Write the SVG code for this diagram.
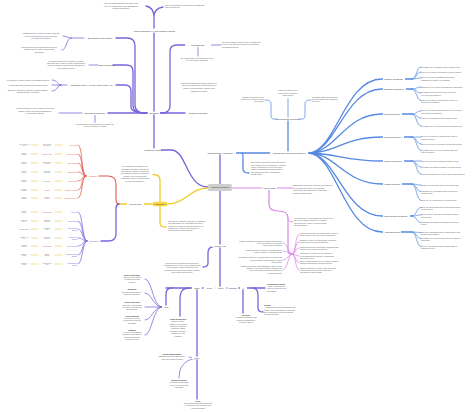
<svg xmlns="http://www.w3.org/2000/svg" width="474" height="412" viewBox="0 0 474 412">
<style>
.c{fill:none;stroke-linecap:round;stroke-linejoin:round}
.pu{stroke:#7467da;stroke-width:1.3}
.pt{stroke:#7467da;stroke-width:0.75}
.bl{stroke:#5689e2;stroke-width:1.3}
.bt{stroke:#5689e2;stroke-width:0.75}
.rd{stroke:#e0584a;stroke-width:1.1}
.rt{stroke:#e0584a;stroke-width:0.75}
.ye{stroke:#f1cb2c;stroke-width:1.3}
.mg{stroke:#d987e6;stroke-width:1.2}
.mt{stroke:#d987e6;stroke-width:0.75}
.yd{stroke:#efd260;stroke-width:0.7;stroke-dasharray:1.4 0.9}
text{font-family:"Liberation Sans",Arial,sans-serif}
.lb{font-size:2px;fill:#2e2e2e}
.lf{font-size:1.75px;fill:#555}
.sm{font-size:1.5px;fill:#7a7a7a}
.bd{font-weight:bold;fill:#333}
.rl{font-size:1.6px;fill:#d5554a}
.pl{font-size:1.6px;fill:#675cd0}
.bg{fill:#fff}
</style>
<rect width="474" height="412" fill="#fff"/>
<g id="connectors">
<path class="c pu" d="M154,148 L154,33 M154,28 L154,17 C154,10 151,7 146,6 M154,17 C154,11 157,8 163,7"/>
<path class="c pu" d="M116,38 L127,38 C132,38 135,41 135,46 L135,105 C135,110 139,113 146,113"/>
<path class="c pu" d="M113,65 L126,65 C130,65 133,67 133,71 L133,106 C133,111 137,113 146,113"/>
<path class="c pu" d="M116,85 L125,85 C129,85 131,87 131,91 L131,107 C131,111 135,113 146,113"/>
<path class="c pu" d="M108,113 L148,113 M160,113 L185,113"/>
<path class="c pu" d="M160,113 L163,113 C167,113 170,110 170,106 L170,51 C170,47 173,45 177,45 L185,45"/>
<path class="c pt" d="M84,38 L71,38 M71,38 C67,38 67,36 63,36 M71,38 C66,38 67,50 62,50"/>
<path class="c pt" d="M98,65 L89,65"/>
<path class="c pt" d="M67,85 L61,85 M61,85 C57,85 58,80 52,80 M61,85 L52,85 M61,85 C57,85 58,91 52,91"/>
<path class="c pt" d="M82,113 L59,113 M95,115.5 L95,122.5 M198,47.5 L198,56 M211,45 L221,45"/>
<path class="c pu" d="M161,150 L171,150 C187,150 186,187 208,187"/>
<path class="c pu" d="M220,184 L220,153 M220,190.5 L220,288"/>
<path class="c pu" d="M213,247 C209,247 208,249 208,253 L208,263 C208,266 206,267 203,267"/>
<path class="c pu" d="M166,288 L265,288"/>
<path class="c pu" d="M189,288 C182,288 180,292 180,300 L180,316"/>
<path class="c pu" d="M172,288 C168,288 166,290 166,294 L166,305"/>
<path class="c pt" d="M162,307 C153,307 152,279 145,279 M162,307 C153,307 152,293 145,293 M162,307 L145,307 M162,307 C153,307 152,320 145,320 M162,307 C153,307 152,335 145,335"/>
<path class="c pu" d="M197,288 L197,399"/>
<path class="c pt" d="M195,358 C192,358 191,357 189,357 M195,359 C188,359 183,363 180,370 L179,378"/>
<path class="c pu" d="M243,288 L243,313 M253,288 C257,288 258,291 258,296 L258,308 C258,311 260,312 263,312"/>
<path class="c bl" d="M222,153 L270,153 M288,121 L288,151"/>
<path class="c bl" d="M242,153 C243,153 243,155 243,159 L243,169 C243,172 245,173 249,173"/>
<path class="c bt" d="M288,98.5 L288,117 M277,119 L274,119 C271,119 271,117 271,114 L271,104 C271,101 269,100 265,100 M299,119 L302,119 C305,119 305,117 305,114 L305,104 C305,101 307,100 311,100"/>
<path class="c bl" d="M308,153 C336,153 344,79 382,79 L412,79 M308,153 C336,153 344,89 382,89 L412,89 M308,153 C336,153 344,114 382,114 L412,114 M308,153 C336,153 344,137 382,137 L412,137 M308,153 C336,153 344,161 382,161 L412,161 M308,153 C336,153 344,184 382,184 L412,184 M308,153 C336,153 344,216 382,216 L412,216 M308,153 C336,153 344,232 382,232 L412,232"/>
<path class="c bt" d="M412,79 C417,79 416,67 421,67 M412,79 C417,79 416,72 421,72 M412,79 C417,79 416,78 421,78"/>
<path class="c bt" d="M412,89 C417,89 416,87 421,87 M412,89 C417,89 416,93 421,93 M412,89 C417,89 416,100.5 421,100.5"/>
<path class="c bt" d="M412,114 C417,114 416,111 421,111 M412,114 C417,114 416,118 421,118 M412,114 C417,114 416,126 421,126"/>
<path class="c bt" d="M412,137 C417,137 416,137 421,137 M412,137 C417,137 416,144 421,144 M412,137 C417,137 416,150.5 421,150.5"/>
<path class="c bt" d="M412,161 C417,161 416,161 421,161 M412,161 C417,161 416,167 421,167 M412,161 C417,161 416,174 421,174"/>
<path class="c bt" d="M412,184 C417,184 416,185 421,185 M412,184 C417,184 416,191.5 421,191.5 M412,184 C417,184 416,200.5 421,200.5"/>
<path class="c bt" d="M412,216 C417,216 416,207.5 421,207.5 M412,216 C417,216 416,215 421,215 M412,216 C417,216 416,222.5 421,222.5"/>
<path class="c bt" d="M412,232 C417,232 416,232.5 421,232.5 M412,232 C417,232 416,238.5 421,238.5 M412,232 C417,232 416,246.5 421,246.5"/>
<path class="c mg" d="M231,188 L292,188 M269,190 L269,204 C269,209 272,211 278,211 C284,211 288,213 288,218 L288,250 C288,253 289,254 292,254"/>
<path class="c mt" d="M288,219 C288,221 290,222 293,222"/>
<path class="c mt" d="M292,254 C296,254 295,234.5 299,234.5 M292,254 C296,254 295,241.5 299,241.5 M292,254 C296,254 295,248 299,248 M292,254 C296,254 295,256 299,256 M292,254 C296,254 295,262.5 299,262.5 M292,254 C296,254 295,270 299,270"/>
<path class="c mt" d="M292,254 C288,254 288,243 283,243 M292,254 C288,254 288,251 283,251 M292,254 C288,254 288,260 283,260 M292,254 C288,254 288,269.5 283,269.5"/>
<path class="c ye" d="M208,188 C190,188 186,204 167,204 M160,201.8 L160,180 C160,176 158,174.5 153,174.5 M160,206.2 L160,223 C160,226 162,227 166,227 M153.5,204 L119,204"/>
<path class="c rd" d="M119,204 C116,204 116,201 116,197 L116,184 C116,179 113,176 108,176 L99,176"/>
<path class="c pu" d="M119,204 C116,204 116,207 116,211 L116,234 C116,239 113,241 108,241 L101,241"/>
<path class="c rt" d="M86,176 C81,176 83,145 78,145 M86,176 C81,176 83,154 78,154 M86,176 C81,176 83,163 78,163 M86,176 C81,176 83,172 78,172 M86,176 C81,176 83,181 78,181 M86,176 C81,176 83,190 78,190 M86,176 C81,176 83,198 78,198"/>
<path class="c pt" d="M87,241 C82,241 83,212 78,212 M87,241 C82,241 83,221 78,221 M87,241 C82,241 83,229 78,229 M87,241 C82,241 83,238 78,238 M87,241 C82,241 83,246 78,246 M87,241 C82,241 83,255 78,255 M87,241 C82,241 83,264 78,264"/>
<path class="c yd" d="M55,145 L62,145 M31,145 L38,145 M55,154 L62,154 M31,154 L38,154 M55,163 L62,163 M31,163 L38,163 M55,172 L62,172 M31,172 L38,172 M55,181 L62,181 M31,181 L38,181 M55,190 L62,190 M31,190 L38,190 M55,198 L62,198 M31,198 L38,198"/>
<path class="c yd" d="M55,212 L62,212 M31,212 L38,212 M55,221 L62,221 M31,221 L38,221 M55,229 L62,229 M31,229 L38,229 M55,238 L62,238 M31,238 L38,238 M55,246 L62,246 M31,246 L38,246 M55,255 L62,255 M31,255 L38,255 M55,264 L62,264 M31,264 L38,264"/>
</g>

<g id="center"><rect x="208" y="184" width="24" height="7" rx="1.5" fill="#cfcfcf"/><text class="lb" x="220" y="188.2" text-anchor="middle" style="font-size:1.9px">Latest Developments</text></g>

<g id="tech-trends"><rect class="bg" x="145" y="148.6" width="16" height="2.8"/><text class="lb" x="153" y="150.7" text-anchor="middle">Technology Trends</text></g>
<g id="emerging"><rect class="bg" x="148" y="111.6" width="12" height="2.8"/><text class="lb" x="154" y="113.7" text-anchor="middle">Emerging</text></g>
<g id="ai"><rect class="bg" x="129" y="29.6" width="50" height="2.8"/><text class="lb" x="154" y="31.7" text-anchor="middle">Artificial Intelligence (AI) and Machine Learning</text></g>
<g id="ai-1"><text class="lf" text-anchor="middle"><tspan x="121" y="4.2">Focus on natural language processing (NLP)</tspan><tspan x="121" dy="2.3">tools, like chatbots and virtual assistants, in</tspan><tspan x="121" dy="2.3">mental health support</tspan></text></g>
<g id="ai-2"><text class="lf"><tspan x="165" y="5.6">Explore how machine learning improves diagnostic</tspan><tspan x="165" dy="2.3">tools in psychology</tspan></text></g>

<g id="biotech"><text class="lb" x="100" y="38.7" text-anchor="middle">Biotechnology and CRISPR</text></g>
<g id="biotech-1"><text class="lf" text-anchor="middle"><tspan x="41" y="34.3">CRISPR and gene editing: potential to address</tspan><tspan x="41" dy="2.3">genetic contributions to mental health and</tspan><tspan x="41" dy="2.3">developmental conditions</tspan></text></g>
<g id="biotech-2"><text class="lf" text-anchor="middle"><tspan x="39" y="48">Using genomics for creating genetic disorders</tspan><tspan x="39" dy="2.3">therapies and the ethical, psychological</tspan><tspan x="39" dy="2.3">implications</tspan></text></g>

<g id="edge"><text class="lb" x="99" y="65.7">Edge Computing</text></g>
<g id="edge-1"><text class="lf" text-anchor="middle"><tspan x="66" y="61.6">Processing data closer to its source, allowing</tspan><tspan x="66" dy="2.3">faster and more reliable real-time monitoring and</tspan><tspan x="66" dy="2.3">quicker feedback in psychological assessments</tspan><tspan x="66" dy="2.3">and wearable devices</tspan></text></g>

<g id="arvr"><text class="lb" x="91.5" y="85.7" text-anchor="middle">Augmented Reality (AR) and Virtual Reality (VR)</text></g>
<g id="arvr-1"><text class="lf" x="28" y="80.6" text-anchor="middle">AR enhances exposure therapy for phobias and anxiety</text></g>
<g id="arvr-2"><text class="lf" x="28" y="85.6" text-anchor="middle">VR simulates social interactions for autism therapy</text></g>
<g id="arvr-3"><text class="lf" text-anchor="middle"><tspan x="28" y="90.6">Both offer potential for immersive cognitive training,</tspan><tspan x="28" dy="2.3">simulations and experiments</tspan></text></g>

<g id="blockchain"><text class="lb" x="95" y="113.7" text-anchor="middle">Blockchain Technology</text></g>
<g id="blockchain-1"><text class="lf" text-anchor="middle"><tspan x="35" y="109.3">Using blockchain for secure health records, data</tspan><tspan x="35" dy="2.3">sharing, privacy and consent management</tspan><tspan x="35" dy="2.3">in psychology research</tspan></text></g>
<g id="blockchain-2"><text class="lf" text-anchor="middle"><tspan x="95" y="125">Concerns about potential misuse of data and the</tspan><tspan x="95" dy="2.3">need for regulatory oversight</tspan></text></g>

<g id="g5"><rect class="bg" x="185" y="43.6" width="26" height="2.8"/><text class="lb" x="198" y="45.7" text-anchor="middle">5G Technology</text></g>
<g id="g5-1"><text class="lf" text-anchor="middle"><tspan x="197" y="59">5G enables faster telehealth services and</tspan><tspan x="197" dy="2.3">real-time remote monitoring</tspan></text></g>
<g id="g5-2"><text class="lf"><tspan x="222" y="43">The rapid growth of remote therapy, allowing more</tspan><tspan x="222" dy="2.3">people to access psychological services without</tspan><tspan x="222" dy="2.3">geographical barriers</tspan></text></g>

<g id="quantum"><text class="lb" x="198" y="113.7" text-anchor="middle">Quantum Computing</text></g>
<g id="quantum-1"><text class="lf" text-anchor="middle"><tspan x="199" y="83.5">Quantum computing could greatly advance the</tspan><tspan x="199" dy="2.9">modelling of brain activity and simulations of</tspan><tspan x="199" dy="2.9">complex neural networks, leading to new</tspan><tspan x="199" dy="2.9">insights into cognition</tspan></text></g>

<g id="interdisciplinary"><rect class="bg" x="204" y="151.6" width="32" height="2.8"/><text class="lb" x="220" y="153.7" text-anchor="middle">Interdisciplinary Approaches</text></g>
<g id="interdisciplinary-1"><text class="lf"><tspan x="251" y="163.2">Exploring the intersection of psychology with</tspan><tspan x="251" dy="2.4">other disciplines like neuroscience, computer</tspan><tspan x="251" dy="2.4">science and sociology to develop a more</tspan><tspan x="251" dy="2.4">holistic understanding of human behavior</tspan><tspan x="251" dy="2.4">and to address complex challenges in</tspan><tspan x="251" dy="2.4">mental health</tspan></text></g>

<g id="contemporary"><rect class="bg" x="270" y="151.6" width="38" height="2.8"/><text class="lb" x="289" y="153.7" text-anchor="middle">Contemporary Psychology Branches</text></g>

<g id="developmental"><text class="lb" x="288" y="119.7" text-anchor="middle">Developmental Psychology</text></g>
<g id="developmental-1"><text class="lf" text-anchor="middle"><tspan x="288" y="91.3">Study the cognitive and</tspan><tspan x="288" dy="2.4">emotional development of</tspan><tspan x="288" dy="2.4">digital natives</tspan></text></g>
<g id="developmental-2"><text class="lf" text-anchor="end"><tspan x="264" y="97.8">Examine the impact of early</tspan><tspan x="264" dy="2.3">technology exposure on child</tspan><tspan x="264" dy="2.3">development</tspan></text></g>
<g id="developmental-3"><text class="lf"><tspan x="312" y="97.8">Investigate aging and technology</tspan><tspan x="312" dy="2.3">adoption among older adults and</tspan><tspan x="312" dy="2.3">the elderly</tspan></text></g>

<g id="cognitive"><rect class="bg" x="383" y="77.6" width="22" height="2.8"/><text class="lb" x="384" y="79.7">Cognitive Psychology</text></g>
<g id="cognitive-leaves"><text class="lf"><tspan x="421" y="67.6">Investigate the relationship between attention and</tspan><tspan x="421" y="72.6">Explore the cognitive processes in decision-making</tspan><tspan x="421" y="78.4">Study the impact of multitasking and digital</tspan><tspan x="421" dy="2.3">distractions on cognitive performance</tspan></text></g>
<g id="emotional"><rect class="bg" x="383" y="87.6" width="23" height="2.8"/><text class="lb" x="384" y="89.7">Emotional Intelligence</text></g>
<g id="emotional-leaves"><text class="lf"><tspan x="421" y="87.6">Examine the role of EI in leadership and relationships</tspan><tspan x="421" y="93.4">Investigate how emotional intelligence can be</tspan><tspan x="421" dy="2.3">developed and measured</tspan><tspan x="421" y="100.9">Explore the impact of emotional intelligence on</tspan><tspan x="421" dy="2.3">workplace performance</tspan></text></g>
<g id="social"><rect class="bg" x="383" y="112.6" width="19" height="2.8"/><text class="lb" x="384" y="114.7">Social Psychology</text></g>
<g id="social-leaves"><text class="lf"><tspan x="421" y="111.4">Study the effects of social media on self-esteem and</tspan><tspan x="421" dy="2.3">interpersonal relationships</tspan><tspan x="421" y="118.6">Analyze the dynamics of group behavior online</tspan><tspan x="421" y="126.6">Investigate the role of social support in mental health</tspan></text></g>
<g id="clinical"><rect class="bg" x="383" y="135.6" width="21" height="2.8"/><text class="lb" x="384" y="137.7">Clinical Psychology</text></g>
<g id="clinical-leaves"><text class="lf"><tspan x="421" y="137.4">Explore the influence of digital therapy tools on</tspan><tspan x="421" dy="2.3">clinical outcomes</tspan><tspan x="421" y="144.6">Study the effects of telehealth on therapeutic alliance</tspan><tspan x="421" y="150.9">Investigate the use of VR in treating PTSD and</tspan><tspan x="421" dy="2.3">anxiety disorders</tspan></text></g>
<g id="positive"><rect class="bg" x="383" y="159.6" width="21" height="2.8"/><text class="lb" x="384" y="161.7">Positive Psychology</text></g>
<g id="positive-leaves"><text class="lf"><tspan x="421" y="161.6">Explore the science of happiness and well-being</tspan><tspan x="421" y="167.6">Investigate the impact of gratitude on mental health</tspan><tspan x="421" y="174.6">Study the psychology of resilience and coping strategies</tspan></text></g>
<g id="health"><rect class="bg" x="383" y="182.6" width="19" height="2.8"/><text class="lb" x="384" y="184.7">Health Psychology</text></g>
<g id="health-leaves"><text class="lf"><tspan x="421" y="185.6">Examine psychological factors influencing health</tspan><tspan x="421" y="191.9">Investigate the relationship between stress and</tspan><tspan x="421" dy="2.3">physical health</tspan><tspan x="421" y="201.1">Study the role of psychology in chronic illness</tspan></text></g>
<g id="crosscultural"><rect class="bg" x="383" y="214.6" width="27" height="2.8"/><text class="lb" x="384" y="216.7">Cross-Cultural Psychology</text></g>
<g id="crosscultural-leaves"><text class="lf"><tspan x="421" y="207.9">Study the psychological differences and similarities</tspan><tspan x="421" dy="2.3">across cultures</tspan><tspan x="421" y="215.4">Explore cultural influences on cognition, emotion</tspan><tspan x="421" dy="2.3">and behavior</tspan><tspan x="421" y="222.9">Investigate the impact of globalization on cultural</tspan><tspan x="421" dy="2.3">identity</tspan></text></g>
<g id="neuro"><rect class="bg" x="383" y="230.6" width="18" height="2.8"/><text class="lb" x="385" y="232.7">Neuropsychology</text></g>
<g id="neuro-leaves"><text class="lf"><tspan x="421" y="232.9">Study the relationship between brain structure and</tspan><tspan x="421" dy="2.3">behavior and cognition</tspan><tspan x="421" y="238.9">Investigate the effects of brain injuries on cognitive</tspan><tspan x="421" dy="2.3">functioning</tspan><tspan x="421" y="246.9">Explore neuroplasticity and the brain's ability to</tspan><tspan x="421" dy="2.3">adapt and recover</tspan></text></g>

<g id="future-trends"><rect class="bg" x="262" y="186.6" width="15" height="2.8"/><text class="lb" x="269.5" y="188.7" text-anchor="middle">Future Trends</text></g>
<g id="future-1"><text class="lf"><tspan x="293" y="186.3">Sustainability psychology: studying how behavioral</tspan><tspan x="293" dy="2.4">interventions can promote environmental</tspan><tspan x="293" dy="2.4">conservation and address the psychological</tspan><tspan x="293" dy="2.4">impact of climate change</tspan></text></g>
<g id="future-2"><text class="lf"><tspan x="294" y="218.8">Cyberpsychology: understanding the impact of the</tspan><tspan x="294" dy="2.4">internet and digital technology on behavior,</tspan><tspan x="294" dy="2.4">including online identity, cyberbullying and</tspan><tspan x="294" dy="2.4">internet addiction</tspan></text></g>
<g id="future-right"><text class="lf"><tspan x="300" y="234">Social media psychology: analyzing the effects of</tspan><tspan x="300" dy="2.2">social media on self-esteem and relationships</tspan><tspan x="300" y="241">Digital well-being: exploring healthy technology</tspan><tspan x="300" dy="2.2">habits and screen time management</tspan><tspan x="300" y="247.6">Gaming psychology: studying the motivations and</tspan><tspan x="300" dy="2.2">effects of video games on behavior</tspan><tspan x="300" y="254.3">Psychology of remote work: the impact of</tspan><tspan x="300" dy="2.2">telecommuting on productivity, collaboration</tspan><tspan x="300" dy="2.2">and mental health</tspan><tspan x="300" y="262">Online learning psychology: how digital education</tspan><tspan x="300" dy="2.2">affects motivation and learning outcomes</tspan><tspan x="300" y="269">Ethics of technology: privacy, data use and the</tspan><tspan x="300" dy="2.2">psychological effects of surveillance and</tspan><tspan x="300" dy="2.2">algorithmic decision-making</tspan></text></g>
<g id="future-left"><text class="lf" text-anchor="end"><tspan x="282" y="241.9">Positive computing: designing technology that supports</tspan><tspan x="282" dy="2.2">well-being, human potential and</tspan><tspan x="282" dy="2.2">psychological flourishing</tspan><tspan x="282" y="250.6">Human-computer interaction: understanding the</tspan><tspan x="282" dy="2.2">cognitive aspects of interface design</tspan><tspan x="282" y="258.4">Persuasive technology: how apps and devices influence</tspan><tspan x="282" dy="2.2">behavior change through design, nudges</tspan><tspan x="282" dy="2.2">and feedback</tspan><tspan x="282" y="267">Digital phenotyping: using smartphone data to detect</tspan><tspan x="282" dy="2.2">changes in mood and behavior, enabling early</tspan><tspan x="282" dy="2.2">intervention and personalized treatment in</tspan><tspan x="282" dy="2.2">mental health care</tspan></text></g>

<g id="methodology"><rect x="153" y="201.8" width="14" height="4.4" rx="0.8" fill="#f5d645"/><text class="lb" x="160" y="204.7" text-anchor="middle" style="font-size:1.9px">Methodology</text></g>
<g id="methodology-1"><text class="lf" text-anchor="middle"><tspan x="135" y="167.2">The integration of qualitative and</tspan><tspan x="135" dy="2.4">quantitative methods, including big</tspan><tspan x="135" dy="2.4">data analysis, machine learning and</tspan><tspan x="135" dy="2.4">neuroimaging, enhances research on</tspan><tspan x="135" dy="2.4">behavior. Mixed methods and</tspan><tspan x="135" dy="2.4">longitudinal studies in digital settings</tspan><tspan x="135" dy="2.4">are gaining prominence.</tspan></text></g>
<g id="methodology-2"><text class="lf"><tspan x="168" y="221.8">Open science practices, such as pre-registration</tspan><tspan x="168" dy="2.4">and data sharing, are increasingly adopted to</tspan><tspan x="168" dy="2.4">address the replication crisis and improve the</tspan><tspan x="168" dy="2.4">transparency, reliability and credibility of</tspan><tspan x="168" dy="2.4">psychological research findings</tspan></text></g>
<g id="research-tools"><rect class="bg" x="127" y="202.6" width="17" height="2.8"/><text class="lb" x="135.5" y="204.7" text-anchor="middle" style="font-size:1.8px">Research Tools</text></g>
<g id="qualitative"><text class="rl" x="93" y="176.6" text-anchor="middle" style="font-size:1.8px">Qualitative</text></g>
<g id="quantitative"><text class="pl" x="94" y="241.6" text-anchor="middle" style="font-size:1.8px">Quantitative</text></g>

<g id="qual-rows">
<text class="rl" text-anchor="end"><tspan x="77" y="145.6">Interviews</tspan><tspan x="77" y="154.6">Focus Groups</tspan><tspan x="77" y="163.6">Case Studies</tspan><tspan x="77" y="172.6">Ethnography</tspan><tspan x="77" y="181.6">Observation</tspan><tspan x="77" y="190.6">Content Analysis</tspan><tspan x="77" y="198.6">Grounded Theory</tspan></text>
<text class="sm" text-anchor="middle"><tspan x="47" y="144.5">Open-ended</tspan><tspan x="47" dy="1.9">questions</tspan><tspan x="47" y="154.5">Shared views</tspan><tspan x="47" y="162.5">Single cases</tspan><tspan x="47" dy="1.9">in depth</tspan><tspan x="47" y="171.5">Immersion</tspan><tspan x="47" dy="1.9">in settings</tspan><tspan x="47" y="181.5">Field notes</tspan><tspan x="47" y="190.5">Coding</tspan><tspan x="47" y="197.5">Iterative</tspan><tspan x="47" dy="1.9">coding</tspan></text>
<text class="sm" text-anchor="middle"><tspan x="24" y="144.5">Rich, detailed</tspan><tspan x="24" dy="1.9">data</tspan><tspan x="24" y="153.5">Group</tspan><tspan x="24" dy="1.9">dynamics</tspan><tspan x="24" y="162.5">In-depth</tspan><tspan x="24" dy="1.9">analysis</tspan><tspan x="24" y="171.5">Cultural</tspan><tspan x="24" dy="1.9">context</tspan><tspan x="24" y="180.5">Natural</tspan><tspan x="24" dy="1.9">behavior</tspan><tspan x="24" y="189.5">Themes in</tspan><tspan x="24" dy="1.9">media</tspan><tspan x="24" y="197.5">Theory</tspan><tspan x="24" dy="1.9">building</tspan></text>
</g>
<g id="quant-rows">
<text class="pl" text-anchor="end"><tspan x="77" y="212.6">Surveys</tspan><tspan x="77" y="221.6">Experiments</tspan><tspan x="77" y="228.6">Correlational</tspan><tspan x="77" dy="1.9">Studies</tspan><tspan x="77" y="237.6">Longitudinal</tspan><tspan x="77" dy="1.9">Studies</tspan><tspan x="77" y="246.6">Meta-Analysis</tspan><tspan x="77" y="254.6">Cross-Sectional</tspan><tspan x="77" dy="1.9">Studies</tspan><tspan x="77" y="263.6">Psychometric</tspan><tspan x="77" dy="1.9">Testing</tspan></text>
<text class="sm" text-anchor="middle"><tspan x="47" y="212.5">Questionnaires</tspan><tspan x="47" y="220.5">Controlled</tspan><tspan x="47" dy="1.9">variables</tspan><tspan x="47" y="228.5">Statistical</tspan><tspan x="47" dy="1.9">links</tspan><tspan x="47" y="237.5">Repeated</tspan><tspan x="47" dy="1.9">measures</tspan><tspan x="47" y="246.5">Pooled data</tspan><tspan x="47" y="254.5">Multiple</tspan><tspan x="47" dy="1.9">groups</tspan><tspan x="47" y="263.5">Standardized</tspan><tspan x="47" dy="1.9">tests</tspan></text>
<text class="sm" text-anchor="middle"><tspan x="24" y="211.5">Large</tspan><tspan x="24" dy="1.9">samples</tspan><tspan x="24" y="220.5">Cause and</tspan><tspan x="24" dy="1.9">effect</tspan><tspan x="24" y="229.5">Relationships</tspan><tspan x="24" y="237.5">Change over</tspan><tspan x="24" dy="1.9">time</tspan><tspan x="24" y="245.5">Combined</tspan><tspan x="24" dy="1.9">results</tspan><tspan x="24" y="254.5">Snapshot</tspan><tspan x="24" dy="1.9">in time</tspan><tspan x="24" y="263.5">Reliability,</tspan><tspan x="24" dy="1.9">validity</tspan></text>
</g>

<g id="practice"><rect class="bg" x="212" y="244.6" width="16" height="2.8"/><text class="lb" x="220" y="246.7" text-anchor="middle" style="font-size:1.8px">Practice Areas</text></g>
<g id="practice-1"><text class="lf" text-anchor="middle"><tspan x="182" y="263.6">Telepsychology and digital therapeutics are</tspan><tspan x="182" dy="2.4">reshaping service delivery, with a growing focus</tspan><tspan x="182" dy="2.4">on accessibility, cultural competence and</tspan><tspan x="182" dy="2.4">integrated care models that combine physical</tspan><tspan x="182" dy="2.4">and mental health services</tspan></text></g>
<g id="chain">
<rect class="bg" x="192" y="286.6" width="10" height="2.8"/><text class="lb" x="197" y="288.6" text-anchor="middle" style="font-size:1.7px">Ethics</text>
<rect class="bg" x="203.5" y="286.6" width="12" height="2.8"/><text class="lb" x="209.5" y="288.6" text-anchor="middle" style="font-size:1.7px">Privacy</text>
<rect class="bg" x="215.5" y="286.6" width="11" height="2.8"/><text class="lb" x="221" y="288.6" text-anchor="middle" style="font-size:1.7px">Society</text>
<rect class="bg" x="227.5" y="286.6" width="11" height="2.8"/><text class="lb" x="233" y="288.6" text-anchor="middle" style="font-size:1.7px">Education</text>
<rect class="bg" x="240" y="286.6" width="7" height="2.8"/><text class="lb" x="243.5" y="288.6" text-anchor="middle" style="font-size:1.7px">AI</text>
</g>
<g id="education-1"><text class="lf"><tspan x="267" y="284.6" class="lf bd">Personalized learning</tspan><tspan x="267" dy="2.4">Adaptive platforms tailor</tspan><tspan x="267" dy="2.4">content to student needs</tspan><tspan x="267" dy="2.4">and abilities</tspan></text></g>
<g id="ai-research"><text class="lf" text-anchor="middle"><tspan x="246" y="316" class="lf bd">Research</tspan><tspan x="246" dy="2.4">AI-assisted analysis of large</tspan><tspan x="246" dy="2.4">behavioral datasets and</tspan><tspan x="246" dy="2.4">predictive models</tspan></text></g>
<g id="ai-therapy"><text class="lf"><tspan x="264" y="305.8" class="lf bd">Therapy</tspan><tspan x="264" dy="2.4">AI chatbots and virtual therapists provide</tspan><tspan x="264" dy="2.4">support, while algorithms help clinicians</tspan><tspan x="264" dy="2.4">tailor treatments to individual patients</tspan><tspan x="264" dy="2.4">and track progress</tspan></text></g>
<g id="tools"><rect class="bg" x="162" y="305.8" width="9" height="2.6"/><text class="lb" x="166.5" y="307.6" text-anchor="middle" style="font-size:1.7px">Tools</text></g>
<g id="tools-leaves"><text class="lf" text-anchor="middle">
<tspan x="132" y="275.8" class="lf bd">Mental health apps</tspan><tspan x="132" dy="2.3">Apps for mood tracking,</tspan><tspan x="132" dy="2.3">meditation and CBT</tspan><tspan x="132" dy="2.3">exercises</tspan>
<tspan x="132" y="290.3" class="lf bd">Wearables</tspan><tspan x="132" dy="2.3">Devices monitoring sleep,</tspan><tspan x="132" dy="2.3">heart rate and stress</tspan>
<tspan x="132" y="303.3" class="lf bd">Virtual reality tools</tspan><tspan x="132" dy="2.3">Immersive environments</tspan><tspan x="132" dy="2.3">for exposure therapy and</tspan><tspan x="132" dy="2.3">skills training</tspan>
<tspan x="132" y="316.6" class="lf bd">Online platforms</tspan><tspan x="132" dy="2.3">Teletherapy services</tspan><tspan x="132" dy="2.3">connecting clients and</tspan><tspan x="132" dy="2.3">therapists</tspan>
<tspan x="132" y="330.6" class="lf bd">Chatbots</tspan><tspan x="132" dy="2.3">AI-driven conversational</tspan><tspan x="132" dy="2.3">agents providing support</tspan><tspan x="132" dy="2.3">and psychoeducation</tspan><tspan x="132" dy="2.3">around the clock</tspan>
</text></g>
<g id="ethics-1"><text class="lf" text-anchor="middle"><tspan x="178" y="319.8" class="lf bd">Digital therapeutics</tspan><tspan x="178" dy="2.4">Evidence-based</tspan><tspan x="178" dy="2.4">software interventions</tspan><tspan x="178" dy="2.4">that treat or manage</tspan><tspan x="178" dy="2.4">conditions, raising</tspan><tspan x="178" dy="2.4">questions of consent,</tspan><tspan x="178" dy="2.4">data security and</tspan><tspan x="178" dy="2.4">regulation</tspan></text></g>
<g id="future"><rect class="bg" x="192" y="356.6" width="10" height="2.8"/><text class="lb" x="197" y="358.6" text-anchor="middle" style="font-size:1.7px">Future</text></g>
<g id="future-a"><text class="lf" text-anchor="middle"><tspan x="172" y="354.8" class="lf bd">Ethical considerations</tspan><tspan x="172" dy="2.4">Balancing innovation with privacy,</tspan><tspan x="172" dy="2.4">equity and informed consent</tspan></text></g>
<g id="future-b"><text class="lf" text-anchor="middle"><tspan x="179" y="381" class="lf bd">Workforce training</tspan><tspan x="179" dy="2.4">Preparing psychologists</tspan><tspan x="179" dy="2.4">to use new technologies</tspan><tspan x="179" dy="2.4">responsibly</tspan></text></g>
<g id="future-c"><text class="lf" text-anchor="middle"><tspan x="198" y="401.5" class="lf bd">Policy</tspan><tspan x="198" dy="2.4">Developing standards and guidelines</tspan><tspan x="198" dy="2.4">for technology use in practice and</tspan><tspan x="198" dy="2.4">research settings</tspan></text></g>
</svg>
